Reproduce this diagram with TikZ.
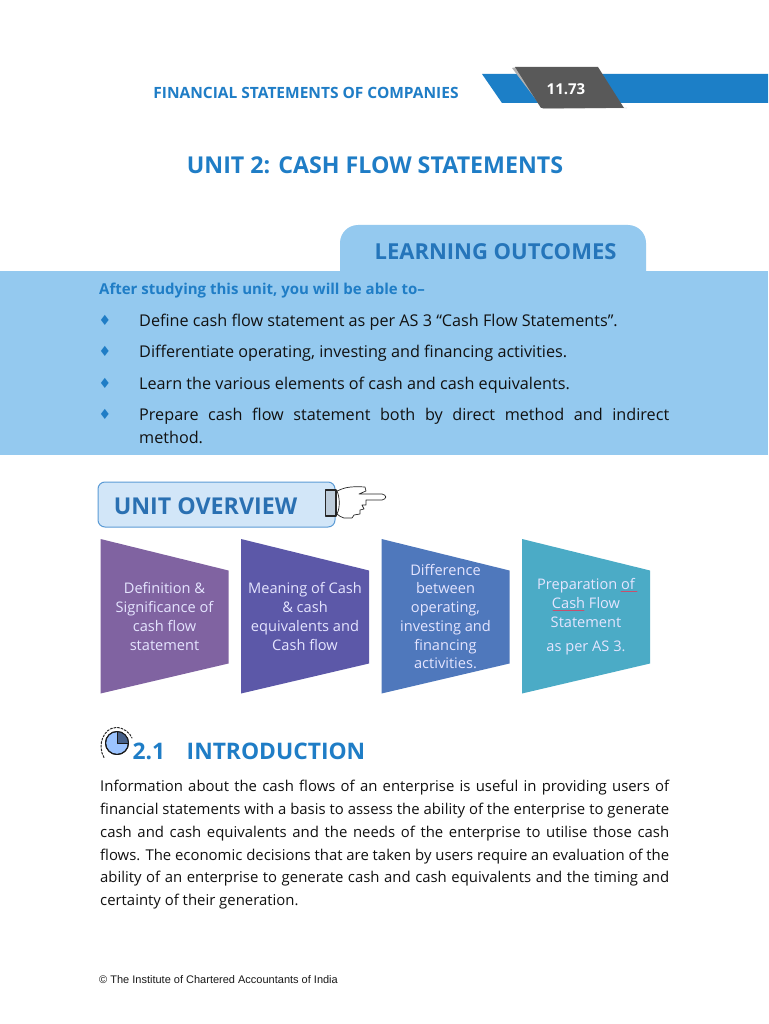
\documentclass[tikz,border=0pt]{standalone}
\usepackage{fontspec}
\setmainfont{Open Sans}
\newfontfamily\footfont{Liberation Sans}
\newfontfamily\symfont{DejaVu Sans}
\usetikzlibrary{positioning,calc}

\definecolor{headblue}{HTML}{1F7DC6}
\definecolor{bandblue}{HTML}{94C9EF}
\definecolor{tagblue}{HTML}{1C7FC7}
\definecolor{taggrey}{HTML}{595959}
\definecolor{boxfill}{HTML}{D2E6F8}
\definecolor{boxline}{HTML}{5B9BD5}
\definecolor{boxtext}{HTML}{2A70B2}
\definecolor{bodyink}{HTML}{111111}
\definecolor{stepA}{HTML}{8063A1}
\definecolor{stepB}{HTML}{5C58A8}
\definecolor{stepC}{HTML}{4F78BC}
\definecolor{stepD}{HTML}{4BABC6}
\definecolor{clockfill}{HTML}{9CC4FF}
\definecolor{clockdark}{HTML}{47618A}
\definecolor{squiggle}{HTML}{C8506E}

\newcommand{\flatline}[1]{\makebox[569pt][s]{#1}}

\tikzset{
	heading/.style={font=\bfseries\fontsize{#1}{#1}\selectfont, text=headblue, inner sep=0pt},
	bullettext/.style={font=\fontsize{16.2}{23}\selectfont, text=bodyink, anchor=west, inner sep=0pt},
	bulletmark/.style={font=\symfont\fontsize{14}{14}\selectfont, text=headblue, inner sep=0pt},
	bodyline/.style={font=\fontsize{14.9}{14.9}\selectfont, text=bodyink, anchor=west, inner sep=0pt},
	steplabel/.style={font=\fontsize{14.6}{18.7}\selectfont, text=white!90!blue, align=center, inner sep=0pt},
}

\begin{document}
\begin{tikzpicture}[x=1pt, y=-1pt, line cap=round, line join=round]
	\useasboundingbox[fill=white] (0,0) rectangle (768,1024);

	% page header
	\fill[tagblue] (482,74) -- (768,74) -- (768,103) -- (502,103) -- cycle;
	\fill[black!30] (512,68) -- (518,67) -- (600,108) -- (627,108) -- (543,109) -- cycle;
	\fill[taggrey] (515,67) -- (598,67) -- (624,108) -- (541,108) -- cycle;
	\node[font=\bfseries\fontsize{15}{15}\selectfont, text=white, inner sep=0pt] (pageno) at (566,89) {11.73};
	\node[heading=15.5] (chapter) at (306,92.5) {FINANCIAL STATEMENTS OF COMPANIES};
	\node[heading=23.2] (unittitle) at (375,165) {UNIT 2: CASH FLOW STATEMENTS};

	% learning outcomes band
	\fill[bandblue] (340,272) -- (340,243) arc[start angle=180, end angle=270, radius=18] -- (628,225) arc[start angle=270, end angle=360, radius=18] -- (646,272) -- cycle;
	\fill[bandblue] (0,271) rectangle (768,455);
	\node[heading=22, text=boxtext!60!headblue] (outcomes) at (495.5,251.5) {LEARNING OUTCOMES};
	\node[heading=15, anchor=west] (intro) at (99,291) {After studying this unit, you will be able to--};

	\node[bulletmark] (markA) at (105,320) {♦};
	\node[bulletmark] (markB) at (105,351) {♦};
	\node[bulletmark] (markC) at (105,383) {♦};
	\node[bulletmark] (markD) at (105,414) {♦};
	\node[bullettext] (itemA) at (139,322) {Define cash flow statement as per AS 3 “Cash Flow Statements”.};
	\node[bullettext] (itemB) at (139,353) {Differentiate operating, investing and financing activities.};
	\node[bullettext] (itemC) at (139,385) {Learn the various elements of cash and cash equivalents.};
	\node[bullettext] (itemD) at (139,416) {\makebox[530pt][s]{Prepare cash flow statement both by direct method and indirect}};
	\node[bullettext] (itemE) at (139,437) {method.};

	% unit overview
	\draw[fill=boxfill, draw=boxline, line width=1pt, rounded corners=7pt] (98,482) rectangle (335,527);
	\node[font=\bfseries\fontsize{23.2}{23.2}\selectfont, text=boxtext, inner sep=0pt] (overview) at (205.5,506) {UNIT OVERVIEW};

	% pointing hand
	\draw[draw=black!85, fill=boxfill!75!gray, line width=1.1pt] (325.5,490) rectangle (336,516);
	\draw[fill=white, draw=black!85, line width=.7pt] (337,491)
		.. controls (344,488) and (348,486) .. (365,487) -- (366,491) -- (359,494)
		-- (382,494) .. controls (387,495) and (387,499) .. (382,500) -- (366,500)
		-- (366,505) -- (362,505) -- (364,509) -- (360,510) -- (360,514)
		-- (354,515) -- (352,518) -- (344,518) .. controls (341,517) and (339,516) .. (337,514)
		.. controls (340,508) and (340,498) .. (337,491) -- cycle;

	% overview steps
	\fill[stepA] (100.5,539) -- (228.5,570.5) -- (228.5,663.5) -- (100.5,693.5) -- cycle;
	\fill[stepB] (241,539) -- (369,570.5) -- (369,663.5) -- (241,693.5) -- cycle;
	\fill[stepC] (381.5,539) -- (509.5,570.5) -- (509.5,663.5) -- (381.5,693.5) -- cycle;
	\fill[stepD] (522,539) -- (650,570.5) -- (650,663.5) -- (522,693.5) -- cycle;
	\node[steplabel] (stepone) at (164.5,616.5) {Definition \&\\Significance of\\cash flow\\statement};
	\node[steplabel] (steptwo) at (305,616.5) {Meaning of Cash\\\& cash\\equivalents and\\Cash flow};
	\node[steplabel] (stepthree) at (445.5,616.5) {Difference\\between\\operating,\\investing and\\financing\\activities.};
	\node[steplabel] (stepfour) at (586,603) {Preparation of\\Cash Flow\\Statement};
	\node[steplabel] (stepfive) at (586,647.5) {as per AS 3.};
	\draw[squiggle, line width=.7pt] (621,591) -- (637,591);
	\draw[squiggle, line width=.7pt] (553,610.5) -- (584,610.5);

	% clock icon and section heading
	\draw[black!85, line width=1pt, dash pattern=on 2pt off 1.6pt] (104,757.5) .. controls (97,746) and (103,728) .. (116,727.5) .. controls (124,727.5) and (130,733) .. (132,738);
	\draw[fill=clockfill, draw=black!90, line width=1pt] (117,743) circle (11.5);
	\fill[clockdark] (117,743) -- (117,731.5) arc[start angle=-90, end angle=0, radius=11.5] -- cycle;
	\draw[black!90, line width=1pt] (117,731.5) -- (117,743) -- (128.5,743);
	\draw[black!90, line width=1pt] (117,743) circle (11.5);
	\node[heading=22.8, anchor=west] (secnum) at (132.5,751) {2.1};
	\node[heading=22.8, anchor=west] (sectitle) at (186.5,751) {INTRODUCTION};

	% body text
	\node[bodyline] (lineA) at (100,788) {\flatline{Information about the cash flows of an enterprise is useful in providing users of}};
	\node[bodyline] (lineB) at (100,811) {\flatline{financial statements with a basis to assess the ability of the enterprise to generate}};
	\node[bodyline] (lineC) at (100,834) {\flatline{cash and cash equivalents and the needs of the enterprise to utilise those cash}};
	\node[bodyline] (lineD) at (100,856.5) {\flatline{flows. The economic decisions that are taken by users require an evaluation of the}};
	\node[bodyline] (lineE) at (100,879) {\flatline{ability of an enterprise to generate cash and cash equivalents and the timing and}};
	\node[bodyline] (lineF) at (100,902) {certainty of their generation.};

	% footer
	\node[font=\footfont\fontsize{11}{11}\selectfont, text=black!90, anchor=west, inner sep=0pt] (footer) at (99,980) {© The Institute of Chartered Accountants of India};
\end{tikzpicture}
\end{document}
